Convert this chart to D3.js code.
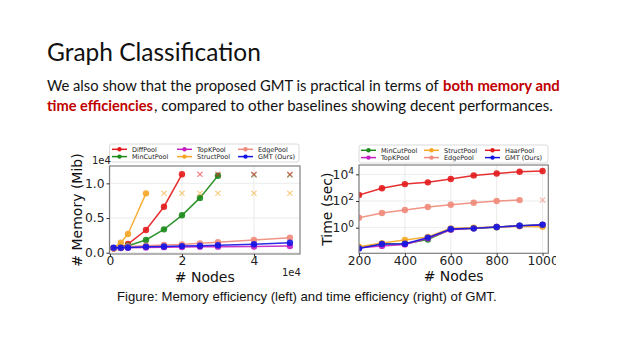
<!DOCTYPE html>
<html><head><meta charset="utf-8">
<script src="https://cdn.jsdelivr.net/npm/d3@7"></script>
<style>body{margin:0;background:#fff}svg{display:block}</style>
</head><body>
<svg id="c" width="638" height="359"></svg>
<script>
// ---------- data ----------
const memNodes = [1000,3000,5000,10000,15000,20000,25000,30000,40000,50000];
const memDiffPool   = [650,700,1250,3270,6630,11300,null,null,null,null];
const memMinCutPool = [650,750,1000,1830,3370,5390,7900,11100,null,null];
const memTopKPool   = [650,680,700,760,800,830,850,870,900,950];
const memStructPool = [650,1440,2700,8560,null,null,null,null,null,null];
const memEdgePool   = [650,700,900,1000,1100,1200,1350,1500,1830,2160];
const memGMT        = [720,720,750,860,900,950,1000,1070,1210,1440];
// out-of-memory markers (x)
const memOOMStruct = [[15000,8560],[20000,8560],[25000,8560],[30000,8560],[40000,8560],[50000,8560]];
const memOOMMinCut = [[40000,11200],[50000,11200]];
const memOOMDiff   = [[25000,11300],[30000,11300],[40000,11300],[50000,11300]];
const memXTicks = [0,20000,40000];
const memYTicks = [0,5000,10000];

const timeNodes = [200,300,400,500,600,700,800,900,1000];
const timeMinCutPool = [0.032,0.06,0.063,0.13,0.75,0.9,1.1,1.4,1.6];
const timeTopKPool   = [0.032,0.043,0.056,0.16,0.71,0.89,1.12,1.35,1.58];
const timeStructPool = [0.038,0.07,0.12,0.2,0.89,1.0,1.15,1.3,1.2];
const timeEdgePool   = [5.6,12.6,21.4,35.5,52.5,74,100,117,null];
const timeHaarPool   = [280,900,1860,2500,4470,8300,11700,15800,17800];
const timeGMT        = [0.028,0.06,0.063,0.18,0.79,0.89,1.12,1.41,1.66];
const timeOOMEdge = [[1000,117]];
const timeXTicks = [200,400,600,800,1000];
const timeYTicks = [1,100,10000];

const C = {red:"#e3191c", green:"#1b8a1b", magenta:"#c21fc2", orange:"#f5a623", salmon:"#f08a7a", blue:"#1414e6"};

// ---------- text ----------
const svg = d3.select("#c");
const TXT = "Lato, 'Open Sans', sans-serif";
// fit a text to a target width by adjusting its font size
function txt(x,y,s,size,width,opts={}){
  const t = svg.append("text").attr("x",x).attr("y",y).attr("font-family",opts.family||TXT).attr("font-size",size)
    .attr("fill",opts.fill||"#111").attr("font-weight",opts.bold?"bold":"normal").text(s);
  if(width){ const w=t.node().getComputedTextLength(); if(w>0) t.attr("font-size",size*width/w); }
  return t;
}
txt(47,61,"Graph Classification",26,214);
txt(47,91,"We also show that the proposed GMT is practical in terms of",16,392);
txt(443,91,"both memory and",16,117,{bold:true,fill:"#c00000"});
txt(47,111,"time efficiencies",16,106,{bold:true,fill:"#c00000"});
txt(154,111,", compared to other baselines showing decent performances.",16,399);
txt(117,301,"Figure: Memory efficiency (left) and time efficiency (right) of GMT.",13.5,380,{family:"'Liberation Sans', Arial, sans-serif"});

const MPL = "'DejaVu Sans', sans-serif";

function panel(opt){
  const {x0,x1,y0,y1,xs,ys,id} = opt;
  svg.append("clipPath").attr("id",id+"fig").append("rect").attr("x",0).attr("y",0).attr("width",opt.figRight).attr("height",359);
  const g = svg.append("g").attr("clip-path",`url(#${id}fig)`);
  g.append("clipPath").attr("id",id).append("rect").attr("x",x0).attr("y",y0).attr("width",x1-x0).attr("height",y1-y0);
  // grid
  opt.xTicks.forEach(t=>g.append("line").attr("x1",xs(t)).attr("x2",xs(t)).attr("y1",y0).attr("y2",y1)
    .attr("stroke","#e6e6e6").attr("stroke-width",0.8));
  opt.yTicks.forEach(t=>g.append("line").attr("y1",ys(t)).attr("y2",ys(t)).attr("x1",x0).attr("x2",x1)
    .attr("stroke","#e6e6e6").attr("stroke-width",0.8));
  const plot = g.append("g").attr("clip-path",`url(#${id})`);
  const line = d3.line().defined(d=>d[1]!=null).x(d=>xs(d[0])).y(d=>ys(d[1]));
  opt.series.forEach(s=>{
    const pts = opt.xs_data.map((n,i)=>[n,s.v[i]]);
    plot.append("path").attr("d",line(pts)).attr("fill","none").attr("stroke",s.c).attr("stroke-width",1.5).attr("stroke-opacity",0.9);
    plot.selectAll(null).data(pts.filter(d=>d[1]!=null)).join("circle")
      .attr("cx",d=>xs(d[0])).attr("cy",d=>ys(d[1])).attr("r",3.2).attr("fill",s.c).attr("fill-opacity",0.9);
  });
  opt.oom.forEach(o=>{
    o.p.forEach(d=>{
      const cx=xs(d[0]), cy=ys(d[1]), r=2.6;
      plot.append("path").attr("d",`M${cx-r},${cy-r}L${cx+r},${cy+r}M${cx-r},${cy+r}L${cx+r},${cy-r}`)
        .attr("stroke",o.c).attr("stroke-width",1.2).attr("stroke-opacity",0.55);
    });
  });
  // frame
  g.append("rect").attr("x",x0).attr("y",y0).attr("width",x1-x0).attr("height",y1-y0)
    .attr("fill","none").attr("stroke","#808080").attr("stroke-width",1.2);
  // axes
  const xa = g.append("g").attr("transform",`translate(0,${y1})`)
    .call(d3.axisBottom(xs).tickValues(opt.xTicks).tickFormat(opt.xFmt).tickSize(2.5).tickPadding(0));
  const ya = g.append("g").attr("transform",`translate(${x0},0)`)
    .call(d3.axisLeft(ys).tickValues(opt.yTicks).tickFormat(opt.yFmt||null).tickSize(3).tickPadding(2));
  [xa,ya].forEach(a=>{a.select(".domain").remove();
    a.selectAll("line").attr("stroke","#333");
    a.selectAll("text").attr("font-family",MPL).attr("font-size",12.3).attr("fill","#222");});
  if(opt.yHtml){ ya.selectAll(".tick text").text(null).each(function(d){
      const t=d3.select(this); t.append("tspan").text("10");
      t.append("tspan").attr("dy",-5).attr("font-size",9).text(Math.round(Math.log10(d)));}); }
  // labels
  g.append("text").attr("x",(x0+x1)/2).attr("y",opt.xlabY).attr("text-anchor","middle")
    .attr("font-family",MPL).attr("font-size",14).attr("fill","#111").text("# Nodes");
  g.append("text").attr("transform",`translate(${opt.ylabX},${(y0+y1)/2}) rotate(-90)`).attr("text-anchor","middle")
    .attr("font-family",MPL).attr("font-size",14).attr("fill","#111").text(opt.ylabel);
  // legend
  const L = opt.legend;
  g.append("rect").attr("x",L.x).attr("y",L.y).attr("width",L.w).attr("height",L.h).attr("rx",2)
    .attr("fill","#fff").attr("stroke","#d0d0d0").attr("stroke-width",0.8);
  L.items.forEach((it,i)=>{
    const col=Math.floor(i/2), row=i%2;
    const hx=L.cols[col], hy=L.y+L.r0+row*L.dr;
    g.append("line").attr("x1",hx).attr("x2",hx+15).attr("y1",hy).attr("y2",hy).attr("stroke",it.c).attr("stroke-width",1.5);
    g.append("circle").attr("cx",hx+7.5).attr("cy",hy).attr("r",2.2).attr("fill",it.c);
    g.append("text").attr("x",hx+20).attr("y",hy+2.3).attr("font-family",MPL).attr("font-size",6.5).attr("fill","#222").text(it.n);
  });
}

// ---------- left panel ----------
const mx = d3.scaleLinear().domain([0,52800]).range([110,300]);
const my = d3.scaleLinear().domain([0,12500]).range([252.7,166]);
panel({id:"clipL",x0:109.5,x1:300,y0:166,y1:254,xs:mx,ys:my,xs_data:memNodes,figRight:310,
  xTicks:memXTicks,yTicks:memYTicks,xFmt:d=>d/10000,yFmt:d=>(d/10000).toFixed(1),
  series:[{v:memDiffPool,c:C.red},{v:memMinCutPool,c:C.green},{v:memTopKPool,c:C.magenta},
          {v:memStructPool,c:C.orange},{v:memEdgePool,c:C.salmon},{v:memGMT,c:C.blue}],
  oom:[{p:memOOMStruct,c:C.orange},{p:memOOMMinCut,c:C.green},{p:memOOMDiff,c:C.red}],
  xlabY:282, ylabX:82, ylabel:"# Memory (Mib)",
  legend:{x:109.5,y:144,w:189.5,h:18,r0:5.3,dr:7.3,cols:[112,177,238],
    items:[{n:"DiffPool",c:C.red},{n:"MinCutPool",c:C.green},{n:"TopKPool",c:C.magenta},
           {n:"StructPool",c:C.orange},{n:"EdgePool",c:C.salmon},{n:"GMT (Ours)",c:C.blue}]}});
svg.append("text").attr("x",92).attr("y",164).attr("font-family",MPL).attr("font-size",10).attr("fill","#222").text("1e4");
svg.append("text").attr("x",282).attr("y",276).attr("font-family",MPL).attr("font-size",10).attr("fill","#222").text("1e4");

// ---------- right panel ----------
const tx = d3.scaleLinear().domain([200,1025]).range([359,548.3]);
const ty = d3.scaleLog().domain([Math.pow(10,-1.92),Math.pow(10,4.7)]).range([253.3,165]);
panel({id:"clipR",x0:359,x1:548.3,y0:165,y1:253.3,xs:tx,ys:ty,xs_data:timeNodes,figRight:556,
  xTicks:timeXTicks,yTicks:timeYTicks,xFmt:d=>d,yHtml:true,
  series:[{v:timeMinCutPool,c:C.green},{v:timeTopKPool,c:C.magenta},{v:timeStructPool,c:C.orange},
          {v:timeEdgePool,c:C.salmon},{v:timeHaarPool,c:C.red},{v:timeGMT,c:C.blue}],
  oom:[{p:timeOOMEdge,c:C.salmon}],
  xlabY:281, ylabX:332, ylabel:"Time (sec)",
  legend:{x:359,y:145,w:189,h:18,r0:5.3,dr:7.3,cols:[361,424,485],
    items:[{n:"MinCutPool",c:C.green},{n:"TopKPool",c:C.magenta},{n:"StructPool",c:C.orange},
           {n:"EdgePool",c:C.salmon},{n:"HaarPool",c:C.red},{n:"GMT (Ours)",c:C.blue}]}});
</script>
</body></html>
